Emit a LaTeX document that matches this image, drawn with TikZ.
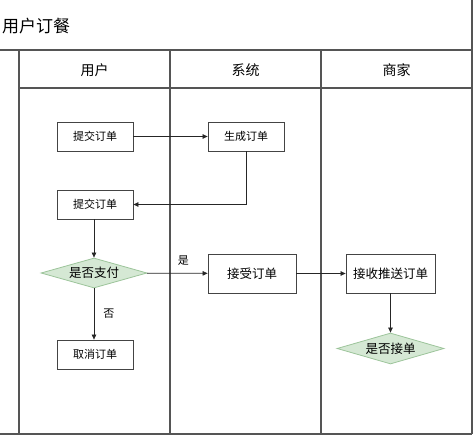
\documentclass[tikz,border=0pt]{standalone}
\usepackage{fontspec}
\setmainfont{Noto Sans CJK SC}
\usetikzlibrary{arrows.meta,shapes.geometric}
\definecolor{poolline}{HTML}{555555}
\definecolor{boxline}{HTML}{444444}
\definecolor{dfill}{HTML}{D5E8D4}
\definecolor{dline}{HTML}{9CC49A}
\tikzset{
  pool/.style={draw=poolline, line width=1.1pt},
  stepbox/.style={draw=boxline, line width=0.8pt, fill=white, rectangle, inner sep=0pt, font=\fontsize{11}{13}\selectfont},
  bigbox/.style={stepbox, font=\fontsize{12.5}{14}\selectfont},
  decision/.style={draw=dline, line width=0.8pt, fill=dfill, diamond, aspect=3.5, inner sep=0pt, font=\fontsize{12.5}{14}\selectfont, minimum width=106pt, minimum height=30pt},
  flow/.style={draw=black!85, line width=0.7pt, -{Triangle[length=5pt,width=4.5pt]}},
  lbl/.style={font=\fontsize{11}{13}\selectfont, inner sep=0pt},
}
\begin{document}
\begin{tikzpicture}[x=1pt,y=-1pt]
\useasboundingbox (0,0) rectangle (474,436);
% pool frame
\draw[pool] (0,50) -- (472,50);
\draw[pool] (472,0) -- (472,434);
\draw[pool, line width=2pt] (0,434) -- (472,434);
\draw[pool] (19,50) -- (19,434);
\draw[pool] (170,50) -- (170,434);
\draw[pool] (321,50) -- (321,434);
\draw[pool] (19,88) -- (472,88);
\node[anchor=west, inner sep=0pt, font=\fontsize{17}{20}\selectfont] (title) at (2,26) {用户订餐};
\node[font=\fontsize{14}{16}\selectfont] (h1) at (94.5,70) {用户};
\node[font=\fontsize{14}{16}\selectfont] (h2) at (245.5,70) {系统};
\node[font=\fontsize{14}{16}\selectfont] (h3) at (396.5,70) {商家};
% nodes
\node[stepbox, minimum width=76pt, minimum height=29pt] (a1) at (95,136.5) {提交订单};
\node[stepbox, minimum width=76pt, minimum height=29pt] (b1) at (246,136.5) {生成订单};
\node[stepbox, minimum width=76pt, minimum height=29pt] (a2) at (95,204.5) {提交订单};
\node[decision] (d1) at (94,273) {是否支付};
\node[bigbox, minimum width=88pt, minimum height=39pt] (b2) at (252,273.5) {接受订单};
\node[bigbox, minimum width=89pt, minimum height=39pt] (c1) at (390.5,273.5) {接收推送订单};
\node[decision, minimum width=107pt, minimum height=31pt] (d2) at (390.5,348.5) {是否接单};
\node[stepbox, minimum width=76pt, minimum height=29pt] (a3) at (95,354.5) {取消订单};
% connectors
\draw[flow] (a1) -- (b1);
\draw[flow] (b1.south) |- (a2.east);
\draw[flow] (a2.south -| d1.north) -- (d1.north);
\draw[flow] (d1) -- node[lbl, pos=0.6, above=8pt] (yes) {是} (b2);
\draw[flow] (b2) -- (c1);
\draw[flow] (c1.south -| d2.north) -- (d2.north);
\draw[flow] (d1.south) -- node[lbl, pos=0.5, right=9pt] (no) {否} (d1.south |- a3.north);
\end{tikzpicture}
\end{document}
